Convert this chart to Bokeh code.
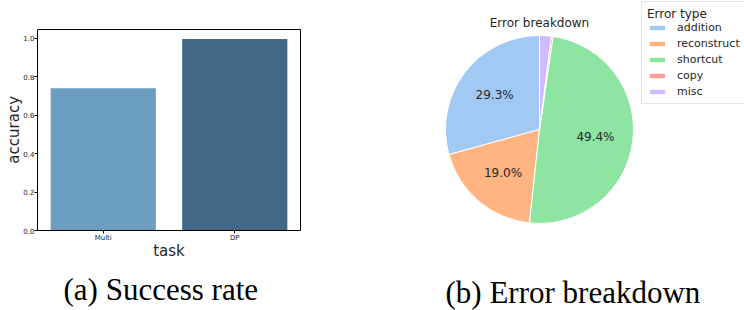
import numpy as np
from bokeh.plotting import figure
from bokeh.models import (ColumnDataSource, FactorRange, Range1d, FixedTicker, LinearAxis,
                          Span, Title, Label, Legend, LegendItem, PrintfTickFormatter)
from bokeh.core.properties import value
from bokeh.layouts import row
from bokeh.embed import file_html
from bokeh.resources import INLINE

# ---- data ----
tasks = ["Multi", "DP"]
accuracy = [0.739, 0.995]
bar_colors = ["#6b9ec1", "#426a88"]
y_ticks = [0.0, 0.2, 0.4, 0.6, 0.8, 1.0]
y_max = 1.045

error_types = ["addition", "reconstruct", "shortcut", "copy", "misc"]
error_share = [29.3, 19.0, 49.4, 0.3, 2.0]
pie_colors = ["#a1c9f4", "#ffb482", "#8de5a1", "#ff9f9b", "#d0bbff"]

TXT = "#262626"
FONT = "DejaVu Sans"
SERIF = "Liberation Serif"

FRAME_H = 230      # both frames span from the top of the page to the x axis
BOX_TOP = 29       # pixel where the visible axes box starts
LEFT = 37
FRAME_W = 263
RIGHT = 72

# ---- (a) bar chart ----
y_end = y_max * FRAME_H / (FRAME_H - BOX_TOP)
p1 = figure(x_range=FactorRange(*tasks), y_range=Range1d(0, y_end),
            frame_width=FRAME_W, frame_height=FRAME_H,
            min_border_top=0, min_border_right=RIGHT, min_border_left=LEFT, min_border_bottom=0,
            output_backend="svg", toolbar_location=None)
p1.title.visible = False
src1 = ColumnDataSource(dict(task=tasks, acc=accuracy, color=bar_colors))
p1.vbar(x="task", top="acc", width=0.8, color="color", source=src1, line_color=None)
p1.xgrid.visible = False
p1.ygrid.visible = False
p1.outline_line_color = None
p1.yaxis.ticker = FixedTicker(ticks=y_ticks, minor_ticks=[])
p1.yaxis.formatter = PrintfTickFormatter(format="%.1f")
p1.yaxis.bounds = (0, y_max)
for ax in (p1.xaxis[0], p1.yaxis[0]):
    ax.major_label_text_font = FONT
    ax.major_label_text_font_size = "7px"
    ax.major_label_text_color = TXT
    ax.axis_label_text_font = FONT
    ax.axis_label_text_font_size = "15px"
    ax.axis_label_text_font_style = "normal"
    ax.axis_label_text_color = TXT
    ax.major_tick_out = 3
    ax.major_tick_in = 0
    ax.minor_tick_out = 0
    ax.minor_tick_in = 0
    ax.major_label_standoff = 0
    ax.axis_label_standoff = -3
    ax.axis_line_color = "black"
    ax.major_tick_line_color = "black"
p1.xaxis.axis_label = "task"
# trailing no-break spaces centre the visible label on the axes box rather than the frame
p1.yaxis.axis_label = "accuracy" + "\u00a0" * 6
# right and top spines of the axes box
p1.add_layout(LinearAxis(bounds=(0, y_max), ticker=FixedTicker(ticks=[]),
                         major_tick_out=0, major_tick_in=0, minor_tick_out=0, minor_tick_in=0,
                         major_label_text_font_size="0px", axis_line_color="black"), "right")
p1.add_layout(Span(location=y_max, dimension="width", line_color="black", line_width=1))
p1.add_layout(Title(text="(a) Success rate", align="left", offset=26, text_font=SERIF,
                    text_font_size="31px", text_font_style="normal",
                    text_color="black", standoff=15), "below")

# ---- (b) pie chart ----
P1_W = LEFT + FRAME_W + RIGHT
FW = 744 - P1_W
FH = FRAME_H
R_PX, CX, CY = 94.0, 539.0 - P1_W, 129.0   # pie radius / centre in frame pixels
p2 = figure(x_range=Range1d(-CX / R_PX, (FW - CX) / R_PX),
            y_range=Range1d(-(FH - CY) / R_PX, CY / R_PX),
            frame_width=FW, frame_height=FH,
            min_border=0, output_backend="svg", toolbar_location=None)
p2.title.visible = False
p2.axis.visible = False
p2.xgrid.visible = False
p2.ygrid.visible = False
p2.outline_line_color = None

share = np.array(error_share, dtype=float)
frac = share / share.sum()
cum = np.concatenate([[0.0], np.cumsum(frac)])
start = np.pi / 2 + 2 * np.pi * cum[:-1]
end = np.pi / 2 + 2 * np.pi * cum[1:]
src2 = ColumnDataSource(dict(kind=error_types, start=start, end=end, color=pie_colors))
wr = p2.wedge(x=0, y=0, radius=1.0, start_angle="start", end_angle="end",
              fill_color="color", line_color="white", line_width=1, source=src2)

mid = (start + end) / 2
show = share > 5
lab_src = ColumnDataSource(dict(x=0.6 * np.cos(mid[show]), y=0.6 * np.sin(mid[show]),
                                t=["%.1f%%" % v for v in share[show]]))
p2.text(x="x", y="y", text="t", source=lab_src, text_align="center",
        text_baseline="middle", text_font=value(FONT), text_font_size="12px",
        text_color=TXT)

p2.add_layout(Label(x=0, y=(CY - 22) / R_PX, text="Error breakdown", text_align="center",
                    text_baseline="middle", text_font=FONT, text_font_size="12px",
                    text_color=TXT))

legend = Legend(items=[LegendItem(label=error_types[i], renderers=[wr], index=i)
                       for i in range(len(error_types))],
                location=(641 - P1_W, FH - 104), title="Error type")
legend.title_text_font = FONT
legend.title_text_font_size = "12px"
legend.title_text_font_style = "normal"
legend.title_text_color = TXT
legend.label_text_font = FONT
legend.label_text_font_size = "11px"
legend.label_text_color = TXT
legend.glyph_width = 20
legend.glyph_height = 7
legend.label_height = 12
legend.spacing = 3
legend.padding = 5
legend.margin = 0
legend.title_standoff = 0
legend.label_standoff = 10
legend.border_line_color = "#cccccc"
legend.background_fill_alpha = 0.8
p2.add_layout(legend)

p2.add_layout(Title(text="(b) Error breakdown", align="left", offset=73, text_font=SERIF,
                    text_font_size="31px", text_font_style="normal",
                    text_color="black", standoff=85), "below")

layout = row(p1, p2)
open("out.html", "w").write(file_html(layout, INLINE))
